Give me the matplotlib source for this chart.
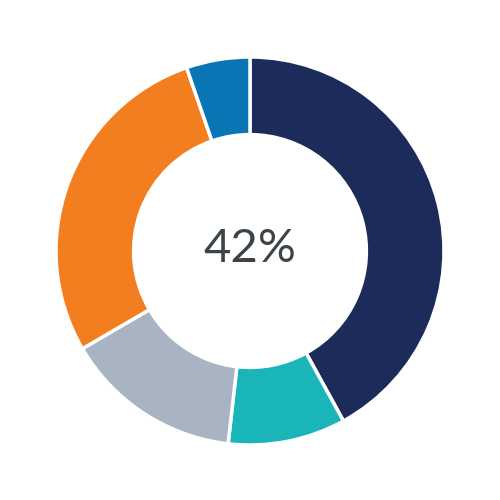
import matplotlib
matplotlib.use("Agg")
import matplotlib.pyplot as plt

labels = ["A", "B", "C", "D", "E"]
values = [42, 9.8, 14.8, 28.1, 5.3]
colors = ["#1c2b5a", "#1ab5b8", "#a9b4c2", "#f37e1f", "#0a75b5"]
center_text = "42%"

fig = plt.figure(figsize=(5, 5), dpi=100)
ax = fig.add_axes([0, 0, 1, 1])
ax.pie(values, colors=colors, startangle=90, counterclock=False, radius=1.0,
       wedgeprops=dict(width=0.4, edgecolor="white", linewidth=2.5))
s = 250 / 194
ax.set_xlim(-s, s)
ax.set_ylim(-s + 1/194, s + 1/194)
ax.set_aspect("equal")
ax.axis("off")
ax.text(0, 0.01, center_text, ha="center", va="center", fontsize=34,
        color="#3d4449", family=["Lato", "DejaVu Sans"])
fig.savefig("out.png", dpi=100, facecolor="white")
